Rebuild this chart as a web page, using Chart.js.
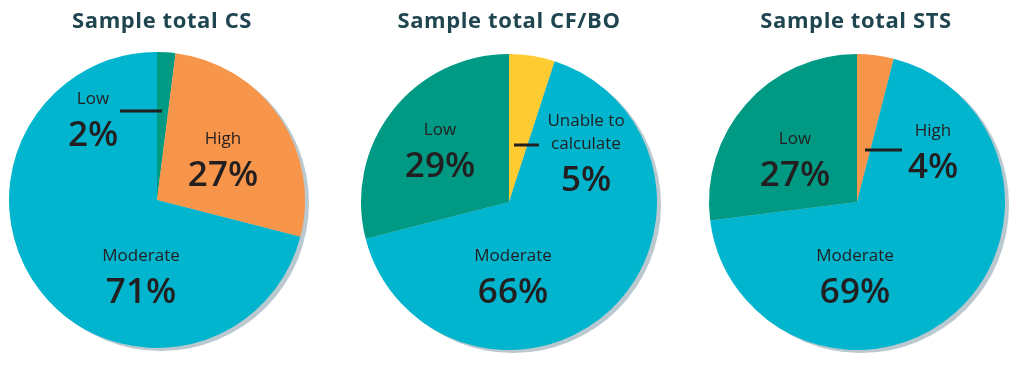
<!DOCTYPE html>
<html>
<head>
<meta charset="utf-8">
<script src="https://cdn.jsdelivr.net/npm/chart.js@4"></script>
<style>
  html, body { margin: 0; padding: 0; background: #fff; }
  body { width: 1024px; height: 374px; position: relative; overflow: hidden; }
  .panel { position: absolute; top: 0; width: 312px; height: 374px; }
  .panel canvas { display: block; }
</style>
</head>
<body>
<div class="panel" style="left:1px"><canvas id="pie-cs"></canvas></div>
<div class="panel" style="left:353px"><canvas id="pie-cfbo"></canvas></div>
<div class="panel" style="left:701px"><canvas id="pie-sts"></canvas></div>
<script>
// data (clockwise from 12 o'clock)
const titles = ['Sample total CS', 'Sample total CF/BO', 'Sample total STS'];

const csLabels = ['Low', 'High', 'Moderate'];
const csValues = [2, 27, 71];

const cfboLabels = ['Unable to calculate', 'Moderate', 'Low'];
const cfboValues = [5, 66, 29];

const stsLabels = ['High', 'Moderate', 'Low'];
const stsValues = [4, 69, 27];

const colorOf = {
  'Low': '#009a84',
  'High': '#f7964a',
  'Moderate': '#00b5cd',
  'Unable to calculate': '#fecb33'
};

const TEXT = '#231f20';
const FONT = '"Open Sans", "Noto Sans", sans-serif';

// draws shadow disc, title, slice labels and pointer lines around the arcs
const pieText = {
  id: 'pieText',
  beforeDatasetsDraw(chart) {
    const arc = chart.getDatasetMeta(0).data[0];
    if (!arc) return;
    const ctx = chart.ctx;
    ctx.save();
    ctx.fillStyle = '#bac8d0';
    ctx.beginPath();
    ctx.arc(arc.x + 4, arc.y + 3, arc.outerRadius, 0, Math.PI * 2);
    ctx.fill();
    ctx.restore();
  },
  afterDatasetsDraw(chart, args, opts) {
    const meta = chart.getDatasetMeta(0);
    const cx = meta.data[0].x, cy = meta.data[0].y;
    const ctx = chart.ctx;
    const values = chart.data.datasets[0].data;
    ctx.save();
    ctx.textAlign = 'center';
    ctx.textBaseline = 'alphabetic';

    ctx.fillStyle = '#1f4550';
    ctx.font = 'bold 22px ' + FONT;
    ctx.letterSpacing = '0.6px';
    ctx.fillText(opts.title, cx + opts.titleDx, 28);
    ctx.letterSpacing = '0px';

    opts.spots.forEach((s, i) => {
      ctx.fillStyle = TEXT;
      ctx.font = '17px ' + FONT;
      s.lines.forEach((line, k) => {
        ctx.fillText(line, cx + s.dx, cy + s.dy + k * 23 + 6);
      });
      ctx.font = '600 35px ' + FONT;
      const last = s.dy + (s.lines.length - 1) * 23;
      ctx.fillText(values[i] + '%', cx + s.dx, cy + last + 36 + 12);
    });

    const p = opts.pointer;
    ctx.strokeStyle = TEXT;
    ctx.lineWidth = 3;
    ctx.beginPath();
    ctx.moveTo(cx + p[0], cy + p[2]);
    ctx.lineTo(cx + p[1], cy + p[2]);
    ctx.stroke();
    ctx.restore();
  }
};

function makePie(id, title, labels, values, pad, textOpts) {
  return new Chart(document.getElementById(id), {
    type: 'pie',
    data: {
      labels: labels,
      datasets: [{
        data: values,
        backgroundColor: labels.map(l => colorOf[l]),
        borderWidth: 0
      }]
    },
    options: {
      responsive: true,
      maintainAspectRatio: false,
      animation: false,
      events: [],
      layout: { padding: pad },
      plugins: {
        legend: { display: false },
        tooltip: { enabled: false },
        pieText: Object.assign({ title: title }, textOpts)
      }
    },
    plugins: [pieText]
  });
}

makePie('pie-cs', titles[0], csLabels, csValues,
  { top: 52, bottom: 26, left: 8, right: 8 },
  {
    titleDx: 5,
    spots: [
      { lines: ['Low'], dx: -64, dy: -102 },
      { lines: ['High'], dx: 66, dy: -62 },
      { lines: ['Moderate'], dx: -16, dy: 55 }
    ],
    pointer: [-37, 5, -89]
  });

makePie('pie-cfbo', titles[1], cfboLabels, cfboValues,
  { top: 54, bottom: 24, left: 8, right: 8 },
  {
    titleDx: 0,
    spots: [
      { lines: ['Unable to', 'calculate'], dx: 77, dy: -82 },
      { lines: ['Moderate'], dx: 4, dy: 53 },
      { lines: ['Low'], dx: -69, dy: -73 }
    ],
    pointer: [5, 30, -57]
  });

makePie('pie-sts', titles[2], stsLabels, stsValues,
  { top: 54, bottom: 24, left: 8, right: 8 },
  {
    titleDx: -1,
    spots: [
      { lines: ['High'], dx: 76, dy: -72 },
      { lines: ['Moderate'], dx: -2, dy: 53 },
      { lines: ['Low'], dx: -62, dy: -64 }
    ],
    pointer: [8, 45, -52]
  });
</script>
</body>
</html>
